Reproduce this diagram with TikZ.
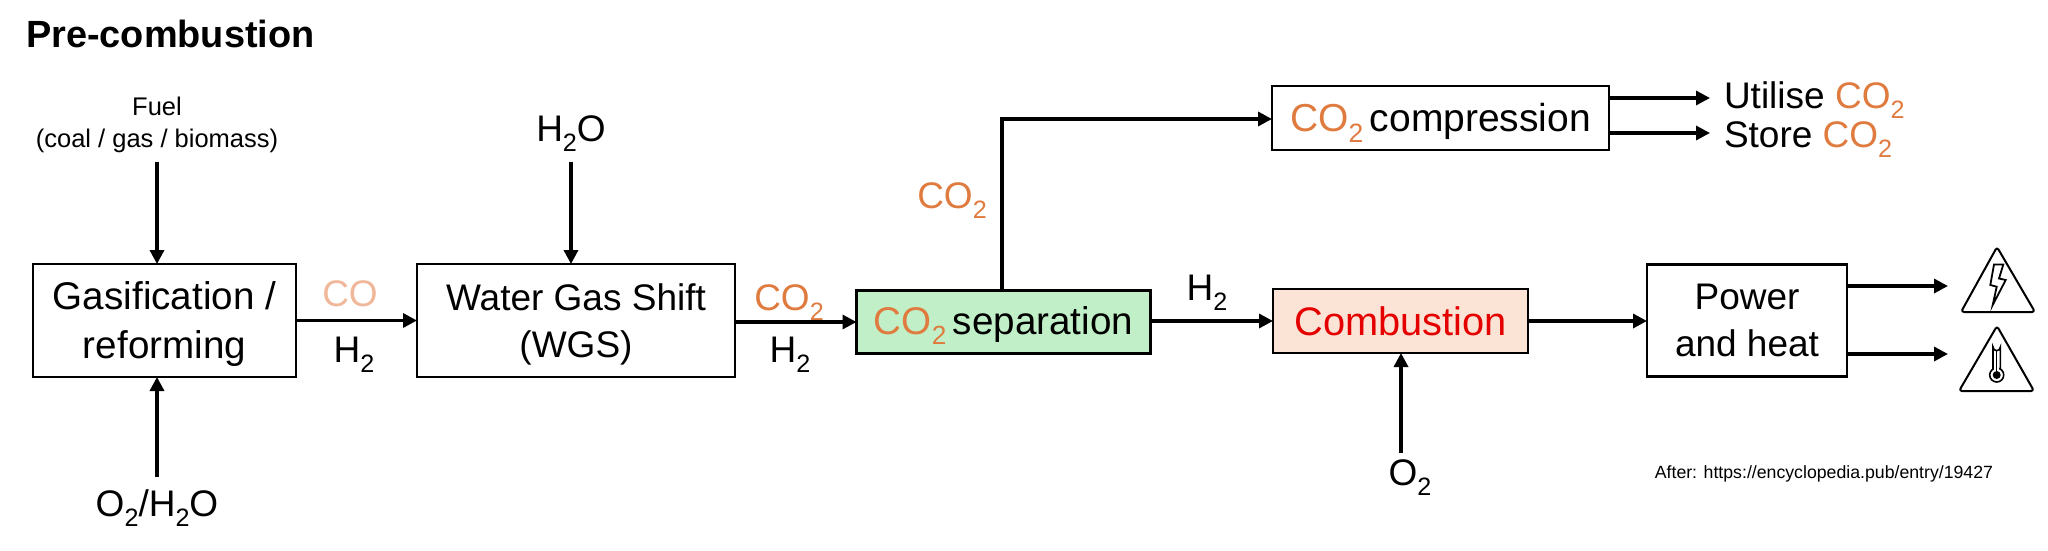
\documentclass[tikz,border=0pt]{standalone}
\usepackage{fontspec}
\setmainfont{Liberation Sans}
\usetikzlibrary{arrows.meta,calc}
\definecolor{oran}{HTML}{E07B3F}
\definecolor{lightoran}{HTML}{F0B79A}
\definecolor{sepgreen}{HTML}{C1F0C8}
\definecolor{combpink}{HTML}{FBE3D6}
\newcommand{\subd}[1]{\raisebox{-0.27em}{\scalebox{.68}{#1}}}
\newcommand{\cotwo}{\textcolor{oran}{CO\subd{2}}}
\newcommand{\dropline}[1]{\rule{0pt}{#1pt}}
\tikzset{
  fs/.style={font=\fontsize{#1}{#1}\selectfont},
  procbox/.style={draw=black,line width=2.4pt,inner sep=0pt,outer sep=0pt,align=center,fs=37,text=black},
  flow/.style={draw=black,line width=3.3pt,-{Triangle[length=14pt,width=14pt]}},
  lab/.style={inner sep=0pt,outer sep=0pt,fs=37,align=center},
  icon/.style={draw=black,line width=2pt,line join=round,fill=white},
}
\begin{document}
\begin{tikzpicture}[x=1pt,y=-1pt]
\useasboundingbox (0,0) rectangle (2048,551);
\node[inner sep=0pt,anchor=base west,fs=37.9] (title) at (26,48) {\textbf{Pre-combustion}};
\node[procbox,fs=38.6,minimum width=263pt,minimum height=113pt] (gas) at (164.5,320.5) {\dropline{35}Gasification /\\[10pt]reforming};
\node[procbox,minimum width=318pt,minimum height=113pt] (wgs) at (576,320.5) {\dropline{34}Water Gas Shift\\[10pt](WGS)};
\node[procbox,fs=38.6,fill=sepgreen,minimum width=294pt,minimum height=63pt] (sep) at (1003.5,322) {\dropline{35}\cotwo\,separation};
\node[procbox,fs=39.8,fill=combpink,minimum width=255pt,minimum height=64pt,text=red!90!black] (comb) at (1400.5,321) {Combustion};
\node[procbox,minimum width=200pt,minimum height=112pt] (power) at (1747,320.5) {Power\\[10pt]and heat};
\node[procbox,fs=39,minimum width=337pt,minimum height=64pt] (comp) at (1440.5,118) {\dropline{38}\cotwo\,compression};
%
\node[lab,fs=25.5] (fuel) at (157,125) {Fuel\\[7pt](coal / gas / biomass)};
\node[lab] (gasin) at (157,508) {O\subd{2}/H\subd{2}O};
\node[lab] (water) at (571,134) {H\subd{2}O};
\node[lab] (oxy) at (1410,478) {O\subd{2}};
\node[lab,text=lightoran] (colab) at (350,294) {CO};
\node[lab] (hlaba) at (354,355) {H\subd{2}};
\node[lab] (colabb) at (789,303) {\cotwo};
\node[lab] (hlabb) at (790,355) {H\subd{2}};
\node[lab] (colabc) at (952,201) {\cotwo};
\node[lab] (hlabc) at (1207,293) {H\subd{2}};
\node[lab,anchor=west] (util) at (1724,100) {Utilise \cotwo};
\node[lab,anchor=west] (store) at (1724,140) {Store \cotwo};
\node[lab,anchor=east,fs=17.7] (after) at (1993,474) {After: https://encyclopedia.pub/entry/19427};
%
\coordinate (fueltop) at (157,162);
\coordinate (gasbot) at (157,477);
\coordinate (watertop) at (571,162);
\coordinate (oxybot) at (1401,453);
\coordinate (septop) at (1002,290);
\coordinate (bend) at (1002,119);
\coordinate (utilend) at (1710,98);
\coordinate (storeend) at (1710,133);
\coordinate (elecend) at (1948,286);
\coordinate (heatend) at (1948,354);
%
\draw[flow] (fueltop) -- (fueltop |- gas.north);
\draw[flow] (gasbot) -- (gasbot |- gas.south);
\draw[flow] (watertop) -- (watertop |- wgs.north);
\draw[flow] (oxybot) -- (oxybot |- comb.south);
\draw[flow] (gas.east) -- (wgs.west);
\draw[flow] (wgs.east |- sep.west) -- (sep.west);
\draw[flow] (sep.east |- comb.west) -- (comb.west);
\draw[flow] (comb.east) -- (power.west |- comb.east);
\draw[flow] (septop) -- (bend) -- (comp.west |- bend);
\draw[flow] (comp.east |- utilend) -- (utilend);
\draw[flow] (comp.east |- storeend) -- (storeend);
\draw[flow] (power.east |- elecend) -- (elecend);
\draw[flow] (power.east |- heatend) -- (heatend);
% icons
\draw[icon,rounded corners=3pt] (1997,247) -- (2035,312) -- (1961,312) -- cycle;
\draw[draw=black,line width=1.8pt,line join=miter,fill=white]
  (1994,264.5) -- (2003.3,264.5) -- (1999,278.5) -- (2005.7,280) -- (1992.7,305) -- (1996.7,286.7) -- (1990.3,285) -- cycle;
\draw[icon,rounded corners=3pt] (1997,326) -- (2034,391) -- (1959,391) -- cycle;
\draw[black,line width=1.6pt,fill=white] (1993,375) -- (1993,347) arc[start angle=180,end angle=0,radius=3.7] -- (2000.4,375);
\draw[black,line width=1.6pt,fill=white] (1996.7,375) circle[radius=7];
\fill[white] (1994,366) rectangle (1999.4,374);
\draw[black,line width=1.2pt] (1996.7,350) -- (1996.7,372);
\fill[black] (1996.7,375) circle[radius=4];
\end{tikzpicture}
\end{document}
